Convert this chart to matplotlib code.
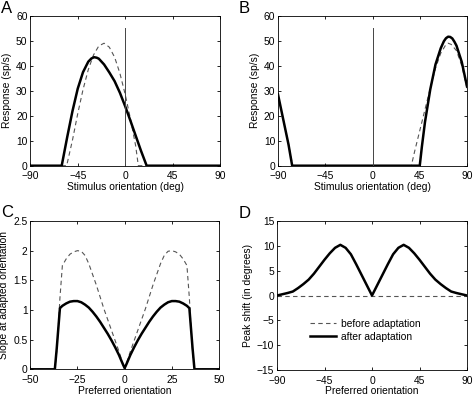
import matplotlib
matplotlib.use("Agg")
import matplotlib.pyplot as plt

plt.rcParams['font.family'] = ['Liberation Sans', 'DejaVu Sans']

# ---- Panel A data ----
a_after_x = [-90, -60.2, -55, -50, -45, -40, -35, -32, -29.5, -27, -25, -20, -15, -10, -5, 0, 5, 10, 15, 20.4, 90]
a_after_y = [0, 0, 11.4, 21.8, 30.8, 37.4, 41.6, 42.9, 43.4, 43.2, 42.8, 40.5, 37.3, 33.8, 29.2, 23.8, 18.0, 12.0, 6.0, 0, 0]
a_before_x = [-90, -55.5, -50, -45, -40, -35, -30, -25, -20, -15, -10, -5, 0, 5, 10, 12.5, 90]
a_before_y = [0, 0, 10.2, 20.8, 30.4, 38.4, 44.3, 47.9, 49.0, 47.4, 43.4, 37.0, 28.6, 18.8, 7.9, 0, 0]

# ---- Panel B data ----
b_after_x = [-90, -85, -80, -76.5, 45, 47, 50, 55, 60, 65, 68, 70, 72, 74, 76, 78, 80, 85, 90]
b_after_y = [28.5, 18.5, 8.5, 0, 0, 7.5, 17.5, 30.5, 40.5, 47.0, 49.8, 51.0, 51.6, 51.5, 50.9, 49.6, 48.0, 41.5, 31.7]
b_before_x = [-90, -85, -80, -76, 37, 40, 45, 50, 55, 60, 65, 70, 72, 75, 80, 85, 90]
b_before_y = [28, 18.5, 8.5, 0, 0, 5.5, 14, 22.5, 31, 39, 45, 48.5, 49, 48.5, 46, 40, 31]

# ---- Panel C data ----
c_x = [-50, -37, -36, -35, -34.3, -33, -31, -29, -27, -25, -23, -21, -19, -17, -15, -13, -11, -9, -7, -5, -3, -1, 0,
       1, 3, 5, 7, 9, 11, 13, 15, 17, 19, 21, 23, 25, 27, 29, 31, 33, 34.3, 35, 36, 37, 50]
c_after = [0, 0, 0.35, 0.75, 1.03, 1.07, 1.11, 1.14, 1.15, 1.15, 1.13, 1.09, 1.04, 0.97, 0.89, 0.80, 0.70, 0.60, 0.49, 0.37, 0.24, 0.09, 0.02,
           0.09, 0.24, 0.37, 0.49, 0.60, 0.70, 0.80, 0.89, 0.97, 1.04, 1.09, 1.13, 1.15, 1.15, 1.14, 1.11, 1.07, 1.03, 0.75, 0.35, 0, 0]
c_before = [0, 0, 0.3, 0.8, 1.2, 1.75, 1.86, 1.94, 1.98, 2.0, 1.99, 1.92, 1.78, 1.6, 1.42, 1.22, 1.02, 0.84, 0.66, 0.48, 0.3, 0.1, 0,
            0.1, 0.3, 0.48, 0.66, 0.84, 1.02, 1.22, 1.42, 1.6, 1.78, 1.92, 1.99, 2.0, 1.98, 1.94, 1.86, 1.75, 1.2, 0.8, 0.3, 0, 0]

# ---- Panel D data ----
d_x = [-90, -85, -80, -75, -70, -65, -60, -55, -50, -45, -40, -35, -30, -25, -20, -15, -10, -5, 0,
       5, 10, 15, 20, 25, 30, 35, 40, 45, 50, 55, 60, 65, 70, 75, 80, 85, 90]
d_after = [0, 0.25, 0.5, 0.8, 1.5, 2.3, 3.2, 4.4, 5.8, 7.2, 8.5, 9.6, 10.2, 9.6, 8.3, 6.3, 4.2, 2.1, 0,
           2.1, 4.2, 6.3, 8.3, 9.6, 10.2, 9.6, 8.5, 7.2, 5.8, 4.4, 3.2, 2.3, 1.5, 0.8, 0.5, 0.25, 0]
d_before = [0] * len(d_x)

FS = 7.4
W, H = 474, 395
fig = plt.figure(figsize=(W / 100, H / 100), dpi=100)


def make_ax(l, t, r, b):
    return fig.add_axes([l / W, 1 - b / H, (r - l) / W, (b - t) / H])


def style(ax):
    ax.tick_params(direction='in', top=True, right=True, labelsize=FS, length=2.5, width=0.6)
    ax.tick_params(axis='x', pad=4)
    ax.tick_params(axis='y', pad=2)
    for s in ax.spines.values():
        s.set_linewidth(0.6)


axA = make_ax(30.3, 15.7, 220, 165.7)
axB = make_ax(278, 15.7, 467, 165.7)
axC = make_ax(30.3, 221, 219, 369.3)
axD = make_ax(277, 221, 467, 370)

dash = dict(color='#555555', lw=0.8, dashes=(4, 3))
solid = dict(color='black', lw=1.8)

# A
axA.plot(a_before_x, a_before_y, **dash)
axA.plot(a_after_x, a_after_y, **solid)
axA.plot([0, 0], [0, 55], color='#444444', lw=0.7)
axA.set_xlim(-90, 90)
axA.set_ylim(0, 60)
axA.set_xticks([-90, -45, 0, 45, 90])
axA.set_yticks([0, 10, 20, 30, 40, 50, 60])
axA.set_xlabel('Stimulus orientation (deg)', fontsize=FS, labelpad=0.5)
axA.set_ylabel('Response (sp/s)', fontsize=FS, labelpad=3)
style(axA)

# B
axB.plot(b_before_x, b_before_y, **dash)
axB.plot(b_after_x, b_after_y, **solid)
axB.plot([0, 0], [0, 55], color='#444444', lw=0.7)
axB.set_xlim(-90, 90)
axB.set_ylim(0, 60)
axB.set_xticks([-90, -45, 0, 45, 90])
axB.set_yticks([0, 10, 20, 30, 40, 50, 60])
axB.set_xlabel('Stimulus orientation (deg)', fontsize=FS, labelpad=0.5)
axB.set_ylabel('Response (sp/s)', fontsize=FS, labelpad=3)
style(axB)

# C
axC.plot(c_x, c_before, **dash)
axC.plot(c_x, c_after, **solid)
axC.set_xlim(-50, 50)
axC.set_ylim(0, 2.5)
axC.set_xticks([-50, -25, 0, 25, 50])
axC.set_yticks([0, 0.5, 1, 1.5, 2, 2.5])
axC.set_yticklabels(['0', '0.5', '1', '1.5', '2', '2.5'])
axC.set_xlabel('Preferred orientation', fontsize=FS, labelpad=0.5)
axC.set_ylabel('Slope at adapted orientation', fontsize=FS, labelpad=3)
style(axC)

# D
axD.plot(d_x, d_before, label='before adaptation', **dash)
axD.plot(d_x, d_after, label='after adaptation', **solid)
axD.set_xlim(-90, 90)
axD.set_ylim(-15, 15)
axD.set_xticks([-90, -45, 0, 45, 90])
axD.set_yticks([-15, -10, -5, 0, 5, 10, 15])
axD.set_xlabel('Preferred orientation', fontsize=FS, labelpad=0.5)
axD.set_ylabel('Peak shift (in degrees)', fontsize=FS, labelpad=3)
axD.legend(loc='upper left', bbox_to_anchor=(0.15, 0.37), frameon=False, fontsize=FS,
           handlelength=2.6, handletextpad=0.5, labelspacing=0.3, borderaxespad=0)
style(axD)

for lab, x, y in [('A', 1, 13), ('B', 239, 13), ('C', 1, 217), ('D', 239, 218)]:
    fig.text(x / W, 1 - y / H, lab, fontsize=12, ha='left', va='baseline')

fig.savefig('out.png', dpi=100)
